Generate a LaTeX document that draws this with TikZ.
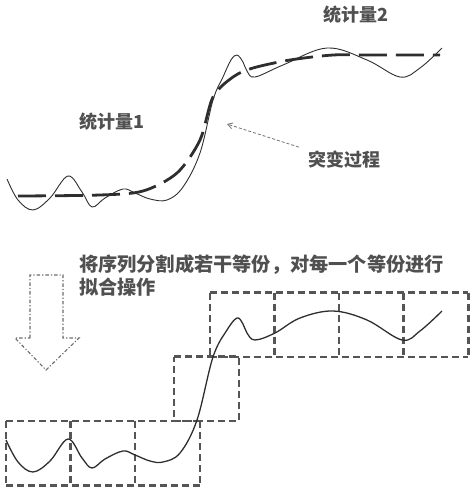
\documentclass[tikz,border=0pt]{standalone}
\usepackage{fontspec}
\newfontfamily\cjk{Noto Sans CJK SC}
\usetikzlibrary{arrows.meta}
\definecolor{ink}{HTML}{2E2E2E}
\definecolor{txt}{HTML}{505050}
\definecolor{boxc}{HTML}{555555}
\tikzset{
  lbl/.style={font=\cjk\bfseries\fontsize{18}{21}\selectfont, text=txt, inner sep=0pt},
  wave/.style={draw=ink, line width=0.9pt},
  fitline/.style={draw=ink, line width=2.8pt, dash pattern=on 28pt off 9pt},
  segbox/.style={minimum width=64.5pt, minimum height=64pt, inner sep=0pt, anchor=north west},
  gridline/.style={draw=boxc, line width=2.2pt, dash pattern=on 7pt off 4pt},
  hollowarrow/.style={draw=gray!85!black, line width=1.1pt, dash pattern=on 3.5pt off 2pt on 1.2pt off 2pt},
}
\begin{document}
\begin{tikzpicture}[x=1pt,y=-1pt]
\useasboundingbox (0,0) rectangle (474,491);

% ---------- top: raw signal ----------
\draw[wave] plot[smooth, tension=0.6] coordinates {
 (7,179) (18,200) (33,210) (50,198) (68,176) (82,192) (92,207) (105,198) (123,189)
 (135,193) (150,199) (167,200) (183,187) (200,153) (213,100) (223,77) (231,60)
 (237,55) (243,62) (247,71) (255,77) (283,65) (327,48) (367,60) (400,77) (420,68) (442,48)};

% ---------- top: dashed fit ----------
\draw[fitline] plot[smooth, tension=0.5] coordinates {
 (18,196) (100,195) (143,191) (177,173) (200,140) (213,97) (233,77) (253,68)
 (290,60) (333,55) (370,55) (440,55)};

\node[lbl] (s1) at (112,122) {统计量1};
\node[lbl] (s2) at (356,15) {统计量2};
\node[lbl] (tb) at (344,160) {突变过程};
\coordinate (tbtip) at (227,124);
\draw[draw=gray!90!black, line width=0.8pt, dash pattern=on 3pt off 2pt, -{Straight Barb[length=5pt,width=6pt]}]
  (tb.north west) ++(-9,-4) -- (tbtip);

% ---------- bottom: text ----------
\node[lbl, font=\cjk\bfseries\fontsize{19.2}{22}\selectfont, anchor=west] (d1) at (79,265) {将序列分割成若干等份，对每一个等份进行};
\node[lbl, font=\cjk\bfseries\fontsize{19.2}{22}\selectfont, anchor=west] (d2) at (79,287) {拟合操作};

% ---------- hollow arrow ----------
\draw[hollowarrow] (30,338) -- (30,275) -- (63,275) -- (63,338) -- (79,338) -- (46,370) -- (15,338) -- cycle;

% ---------- segment boxes ----------
\node[segbox] (b1) at (6,421) {};
\node[segbox] (b2) at (70.5,421) {};
\node[segbox] (b3) at (135,421) {};
\node[segbox] (b4) at (174,356.5) {};
\node[segbox] (b5) at (210,292.5) {};
\node[segbox] (b6) at (274.5,292.5) {};
\node[segbox] (b7) at (339,292.5) {};
\node[segbox] (b8) at (403.5,292.5) {};

\draw[gridline] (b1.north west) -- (b3.north east);
\draw[gridline] (b1.south west) -- (b3.south east);
\foreach \b in {b1,b2,b3} \draw[gridline] (\b.north west) -- (\b.south west);
\draw[gridline] (b3.north east) -- (b3.south east);

\draw[gridline] (b4.north west) -- (b4.north east) -- (b4.south east) -- (b4.south west) -- cycle;

\draw[gridline] (b5.north west) -- (b8.north east);
\draw[gridline] (b5.south west) -- (b8.south east);
\foreach \b in {b5,b6,b7,b8} \draw[gridline] (\b.north west) -- (\b.south west);
\draw[gridline] (b8.north east) -- (b8.south east);

% ---------- bottom: signal ----------
\draw[wave, line width=1.3pt] plot[smooth, tension=0.6] coordinates {
 (6,440) (18,462) (33,472) (50,461) (68,439) (82,458) (92,468) (105,459) (123,451)
 (135,455) (150,461) (163,462) (180,453) (197,420) (213,357) (227,330) (237,318)
 (243,324) (247,333) (255,340) (275,333) (300,318) (333,311) (367,320) (402,340) (420,331) (442,311)};
\end{tikzpicture}
\end{document}
